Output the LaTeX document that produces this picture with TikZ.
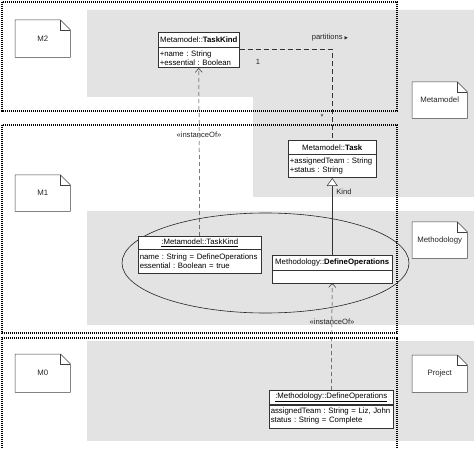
\documentclass[tikz,border=0pt]{standalone}
\usepackage{fontspec}
\setmainfont{Liberation Sans}
\newfontfamily\dejavu{DejaVu Sans}
\usetikzlibrary{arrows.meta,calc}
\pgfdeclarelayer{back}
\pgfdeclarelayer{mid}
\pgfsetlayers{back,mid,main}
\frenchspacing
\begin{document}
\begin{tikzpicture}[x=1pt,y=-1pt,
  font=\fontsize{7.8}{9}\selectfont,
  region/.style={fill=black!11, draw=none},
  frame/.style={draw=black, line width=1.1pt, dash pattern=on 1.1pt off 0.9pt},
  hdr/.style={draw=black!80, fill=white, inner xsep=0.5pt, inner ysep=1pt, anchor=north west, line width=0.5pt},
  bdy/.style={draw=black!80, fill=white, inner xsep=1.5pt, inner ysep=1pt, anchor=north west, align=left, line width=0.5pt},
  notebox/.style={minimum width=55pt, minimum height=37pt, inner sep=0pt, anchor=north west, font=\fontsize{7.8}{9}\selectfont, text=black!85},
  noteline/.style={draw=black!75, line width=0.5pt},
  dep/.style={draw=black!80, line width=0.5pt, dash pattern=on 4pt off 3pt, -{Straight Barb[length=4pt,width=7pt]}},
  lbl/.style={inner sep=0.5pt, font=\fontsize{7.6}{8}\selectfont, text=black!85}
]
\useasboundingbox (0,0) rectangle (474,449);

% gray regions
\begin{pgfonlayer}{back}
\fill[black!11] (87,10) -- (474,10) -- (474,197) -- (253,197) -- (253,97) -- (87,97) -- cycle;
\fill[black!11] (87,211) rectangle (474,325);
\fill[black!11] (87,341) rectangle (474,441);
\end{pgfonlayer}

% level frames
\draw[frame] (2,2) rectangle (397,111);
\draw[frame] (2,125) rectangle (397,333);
\draw[frame] (2,452) -- (2,338) -- (397,338) -- (397,452);

% notes
\node[notebox] (m2) at (15,20) {M2};
\node[notebox, minimum height=36pt] (m1) at (15,175) {M1};
\node[notebox, minimum height=38pt] (m0) at (15,354) {M0};
\node[notebox, minimum height=36pt] (nmeta) at (412,82) {Metamodel};
\node[notebox, minimum height=36pt] (nmeth) at (412,222) {Methodology};
\node[notebox] (nproj) at (412,355) {Project};
\begin{pgfonlayer}{mid}
\foreach \n in {m2,m1,m0,nmeta,nmeth,nproj}{
  \draw[noteline, fill=white] (\n.north west) -- ([xshift=-10pt]\n.north east) -- ([yshift=-10pt]\n.north east) -- (\n.south east) -- (\n.south west) -- cycle;
  \draw[noteline] ([xshift=-10pt]\n.north east) -- ([xshift=-10pt,yshift=-10pt]\n.north east) -- ([yshift=-10pt]\n.north east);
}
\end{pgfonlayer}

% ellipse
\draw[black!85, line width=0.6pt] (265.5,263) ellipse [x radius=143.5pt, y radius=50pt];

% Metamodel::TaskKind
\node[hdr, minimum width=81pt, minimum height=15pt] (tkh) at (158,32) {Metamodel::\textbf{TaskKind}};
\node[bdy, minimum width=81pt, text width=78pt, minimum height=20pt] (tkb) at (tkh.south west) {+name : String\\+essential : Boolean};

% Metamodel::Task
\node[hdr, minimum width=88pt, minimum height=14pt] (taskh) at (288,140) {Metamodel::\textbf{Task}};
\node[bdy, minimum width=88pt, text width=85pt, minimum height=23pt] (taskb) at (taskh.south west) {+assignedTeam : String\\+status : String};

% :Metamodel::TaskKind
\node[hdr, minimum width=123pt, minimum height=13pt] (itkh) at (138,236) {\underline{:Metamodel::TaskKind}};
\node[bdy, minimum width=123pt, text width=120pt, minimum height=23pt] (itkb) at (itkh.south west) {name : String = DefineOperations\\essential : Boolean = true};

% Methodology::DefineOperations
\node[hdr, minimum width=120pt, minimum height=15pt] (doh) at (272,255) {Methodology::\textbf{DefineOperations}};
\node[bdy, minimum width=120pt, text width=117pt, minimum height=12pt] (dob) at (doh.south west) {};

% :Methodology::DefineOperations
\node[hdr, minimum width=124pt, minimum height=14pt] (idoh) at (269,390) {\underline{:Methodology::DefineOperations}};
\node[bdy, minimum width=124pt, text width=121pt, minimum height=23pt] (idob) at (idoh.south west) {assignedTeam : String = Liz, John\\status : String = Complete};

% connectors
\draw[dep] (itkh.north) -- (tkb.south);
\node[lbl] (io1) at (199,135) {«instanceOf»};
\draw[dep] (idoh.north) -- (dob.south);
\node[lbl] (io2) at (332,322) {«instanceOf»};
\draw[draw=black!80, line width=0.5pt, -{Triangle[fill=white,length=8pt,width=11pt]}] (doh.north) -- (taskb.south);
\node[lbl] (kind) at (344,192) {Kind};
\draw[draw=black!80, line width=0.5pt, dash pattern=on 5pt off 3pt] ([yshift=-2pt]tkb.north east) -| (taskh.north);
\node[lbl] (part) at (330,38) {partitions {\dejavu\fontsize{4.5}{5}\selectfont ▶}};
\node[lbl] (mult1) at (258,62) {1};
\node[lbl] (mult2) at (322,117) {*};
\end{tikzpicture}
\end{document}
